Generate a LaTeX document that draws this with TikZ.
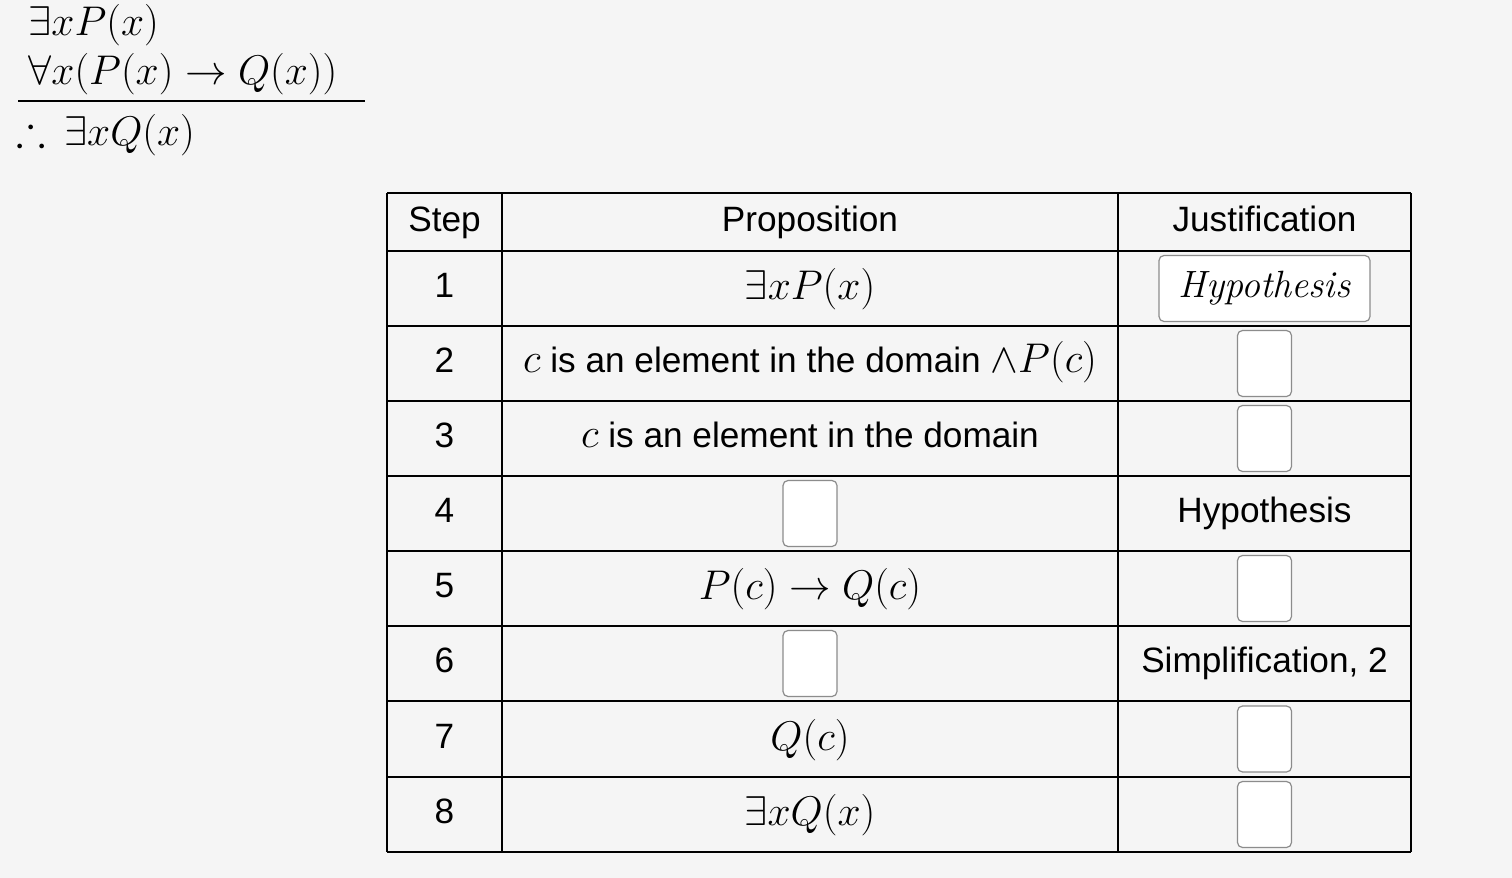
\documentclass[tikz,border=0pt]{standalone}
\usepackage{amssymb}
\usepackage[no-math]{fontspec}
\setsansfont{Liberation Sans}
\begin{document}
\begin{tikzpicture}[x=0.5pt,y=-0.5pt,
  txt/.style={font=\sffamily\fontsize{17.6}{21}\selectfont,inner sep=0pt,text height=12.5pt,text depth=3.5pt},
  mth/.style={font=\fontsize{22}{26}\selectfont,inner sep=0pt,text height=16pt,text depth=5pt},
  blank/.style={draw=black!45,fill=white,rounded corners=2.5pt,line width=0.6pt,minimum width=27pt,minimum height=33pt,inner sep=0pt}]
\fill[black!4] (0,0) rectangle (1512,878);
\useasboundingbox (0,0) rectangle (1512,878);
% premises
\node[mth,anchor=west] (p1) at (28,24) {$\exists x P(x)$};
\node[mth,anchor=west] (p2) at (28,73) {$\forall x (P(x)\rightarrow Q(x))$};
\draw[line width=0.7pt] (18,101) -- (365,101);
\node[mth,anchor=west] (c) at (16,134) {$\therefore\,\exists x Q(x)$};
% table grid
\foreach \y in {193,251,326,401,476,551,626,701,777,852}
  \draw[line width=0.8pt] (387,\y) -- (1411,\y);
\foreach \x in {387,502,1118,1411}
  \draw[line width=0.8pt] (\x,193) -- (\x,852);
% header
\node[txt] (hs) at (444.5,222) {Step};
\node[txt] (hp) at (810,222) {Proposition};
\node[txt] (hj) at (1264.5,222) {Justification};
% step numbers
\foreach \n/\y in {1/288.5,2/363.5,3/438.5,4/513.5,5/588.5,6/663.5,7/739,8/814.5}
  \node[txt] (s\n) at (444.5,\y) {\n};
% propositions
\node[mth] (r1) at (810,288.5) {$\exists x P(x)$};
\node[txt] (r2) at (810,363.5) {{\fontsize{22}{26}\selectfont$c$} is an element in the domain {\fontsize{22}{26}\selectfont$\wedge P(c)$}};
\node[txt] (r3) at (810,438.5) {{\fontsize{22}{26}\selectfont$c$} is an element in the domain};
\node[blank] (r4) at (810,513.5) {};
\node[mth] (r5) at (810,588.5) {$P(c)\rightarrow Q(c)$};
\node[blank] (r6) at (810,663.5) {};
\node[mth] (r7) at (810,739) {$Q(c)$};
\node[mth] (r8) at (810,814.5) {$\exists x Q(x)$};
% justifications
\node[blank,minimum width=105.5pt,font=\itshape\fontsize{19}{22}\selectfont] (j1) at (1264.5,288.5) {Hypothesis};
\node[blank] (j2) at (1264.5,363.5) {};
\node[blank] (j3) at (1264.5,438.5) {};
\node[txt] (j4) at (1264.5,513.5) {Hypothesis};
\node[blank] (j5) at (1264.5,588.5) {};
\node[txt] (j6) at (1264.5,663.5) {Simplification, 2};
\node[blank] (j7) at (1264.5,739) {};
\node[blank] (j8) at (1264.5,814.5) {};
\end{tikzpicture}
\end{document}
